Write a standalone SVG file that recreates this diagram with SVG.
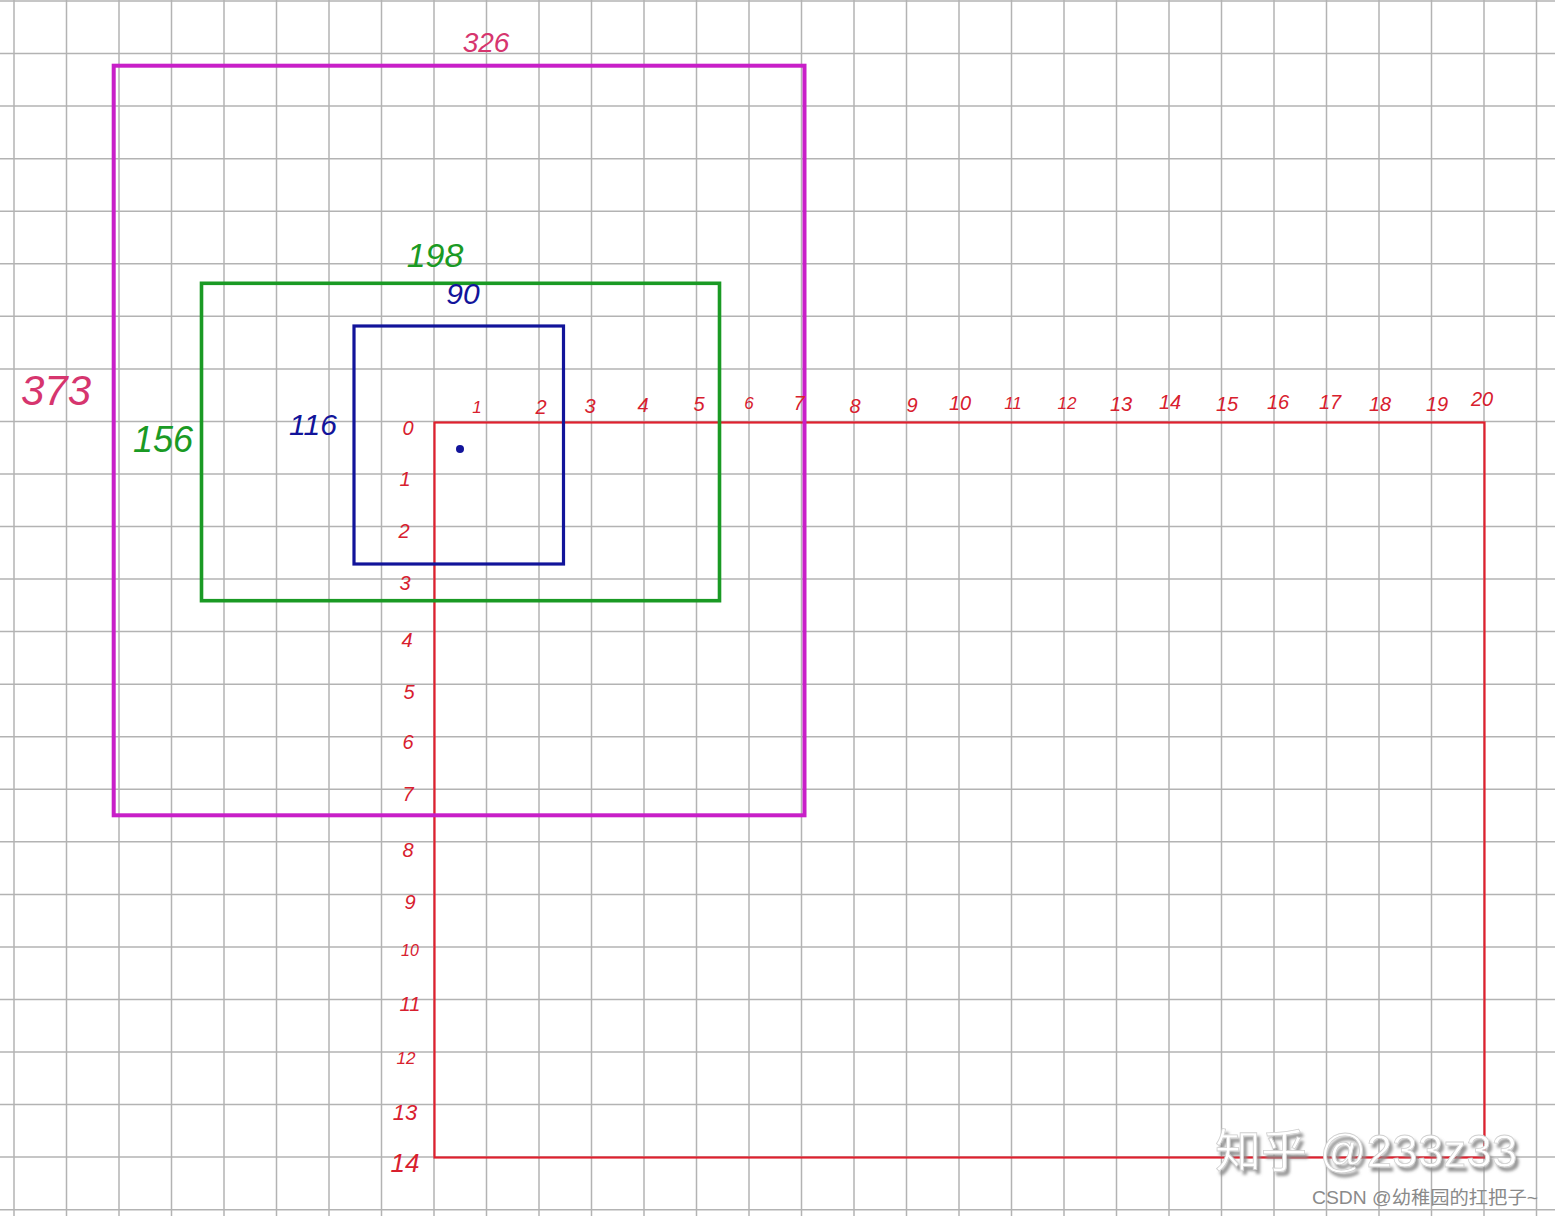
<svg xmlns="http://www.w3.org/2000/svg" width="1555" height="1216" viewBox="0 0 1555 1216">
<style>
.grid line{stroke:#b3b3b3;stroke-width:1.5}
.box{fill:none;stroke-linejoin:miter}
.hw{font-family:"Liberation Sans",sans-serif;font-style:italic;text-anchor:middle}
.ax{fill:#d8202e;font-size:20px}
.wm{font-family:"Liberation Sans","Noto Sans CJK SC",sans-serif}
</style>
<defs>
<filter id="shadow" x="-10%" y="-30%" width="120%" height="160%">
<feDropShadow dx="3" dy="4" stdDeviation="1.5" flood-color="#8a8a8a" flood-opacity="0.9"/>
</filter>
</defs>
<rect x="0" y="0" width="1555" height="1216" fill="#ffffff"/>
<g id="grid" class="grid">
<line x1="14" y1="0" x2="14" y2="1216"/><line x1="66.5" y1="0" x2="66.5" y2="1216"/><line x1="119" y1="0" x2="119" y2="1216"/><line x1="171.5" y1="0" x2="171.5" y2="1216"/><line x1="224" y1="0" x2="224" y2="1216"/><line x1="276.5" y1="0" x2="276.5" y2="1216"/><line x1="329" y1="0" x2="329" y2="1216"/><line x1="381.5" y1="0" x2="381.5" y2="1216"/><line x1="434" y1="0" x2="434" y2="1216"/><line x1="486.5" y1="0" x2="486.5" y2="1216"/><line x1="539" y1="0" x2="539" y2="1216"/><line x1="591.5" y1="0" x2="591.5" y2="1216"/><line x1="644" y1="0" x2="644" y2="1216"/><line x1="696.5" y1="0" x2="696.5" y2="1216"/><line x1="749" y1="0" x2="749" y2="1216"/><line x1="801.5" y1="0" x2="801.5" y2="1216"/><line x1="854" y1="0" x2="854" y2="1216"/><line x1="906.5" y1="0" x2="906.5" y2="1216"/><line x1="959" y1="0" x2="959" y2="1216"/><line x1="1011.5" y1="0" x2="1011.5" y2="1216"/><line x1="1064" y1="0" x2="1064" y2="1216"/><line x1="1116.5" y1="0" x2="1116.5" y2="1216"/><line x1="1169" y1="0" x2="1169" y2="1216"/><line x1="1221.5" y1="0" x2="1221.5" y2="1216"/><line x1="1274" y1="0" x2="1274" y2="1216"/><line x1="1326.5" y1="0" x2="1326.5" y2="1216"/><line x1="1379" y1="0" x2="1379" y2="1216"/><line x1="1431.5" y1="0" x2="1431.5" y2="1216"/><line x1="1484" y1="0" x2="1484" y2="1216"/><line x1="1536.5" y1="0" x2="1536.5" y2="1216"/>
<line x1="0" y1="1" x2="1555" y2="1"/><line x1="0" y1="53.6" x2="1555" y2="53.6"/><line x1="0" y1="106.1" x2="1555" y2="106.1"/><line x1="0" y1="158.7" x2="1555" y2="158.7"/><line x1="0" y1="211.2" x2="1555" y2="211.2"/><line x1="0" y1="263.8" x2="1555" y2="263.8"/><line x1="0" y1="316.3" x2="1555" y2="316.3"/><line x1="0" y1="368.9" x2="1555" y2="368.9"/><line x1="0" y1="421.4" x2="1555" y2="421.4"/><line x1="0" y1="474" x2="1555" y2="474"/><line x1="0" y1="526.5" x2="1555" y2="526.5"/><line x1="0" y1="579.1" x2="1555" y2="579.1"/><line x1="0" y1="631.6" x2="1555" y2="631.6"/><line x1="0" y1="684.2" x2="1555" y2="684.2"/><line x1="0" y1="736.7" x2="1555" y2="736.7"/><line x1="0" y1="789.3" x2="1555" y2="789.3"/><line x1="0" y1="841.8" x2="1555" y2="841.8"/><line x1="0" y1="894.4" x2="1555" y2="894.4"/><line x1="0" y1="946.9" x2="1555" y2="946.9"/><line x1="0" y1="999.5" x2="1555" y2="999.5"/><line x1="0" y1="1052" x2="1555" y2="1052"/><line x1="0" y1="1104.6" x2="1555" y2="1104.6"/><line x1="0" y1="1157.1" x2="1555" y2="1157.1"/><line x1="0" y1="1209.7" x2="1555" y2="1209.7"/>
</g>
<g id="red-rect"><rect class="box" x="434.5" y="422.5" width="1050" height="735" stroke="#e0202e" stroke-width="2.2"/></g>
<g id="magenta-rect"><rect class="box" x="113.7" y="65.7" width="690.8" height="749.6" stroke="#c81fc8" stroke-width="4"/></g>
<g id="green-rect"><rect class="box" x="201.5" y="283.3" width="518" height="317.4" stroke="#1a9a24" stroke-width="3.6"/></g>
<g id="blue-rect"><rect class="box" x="354" y="326" width="209.5" height="238" stroke="#12149a" stroke-width="3.2"/></g>
<g id="dot"><circle cx="460" cy="449" r="4" fill="#12149a"/></g>
<g id="labels" class="hw">
<text x="486" y="52" fill="#d6356e" font-size="28">326</text>
<text x="435" y="267" fill="#1a9a24" font-size="34">198</text>
<text x="463" y="304" fill="#12149a" font-size="30">90</text>
<text x="56" y="405" fill="#d6356e" font-size="42">373</text>
<text x="163" y="452" fill="#1a9a24" font-size="36">156</text>
<text x="313" y="435" fill="#12149a" font-size="30">116</text>
</g>
<g id="axis-y" class="hw ax">
<text x="408" y="435">0</text><text x="405" y="486">1</text><text x="404" y="538">2</text><text x="405" y="590">3</text><text x="407" y="647">4</text><text x="409" y="699">5</text><text x="408" y="749">6</text><text x="408" y="801">7</text><text x="408" y="857">8</text><text x="410" y="909">9</text><text x="410" y="956" font-size="16">10</text><text x="410" y="1011">11</text><text x="406" y="1064" font-size="17">12</text><text x="405" y="1120" font-size="22">13</text><text x="405" y="1172" font-size="26">14</text>
</g>
<g id="axis-x" class="hw ax">
<text x="477" y="413" font-size="17">1</text><text x="541" y="414">2</text><text x="590" y="413">3</text><text x="643" y="412">4</text><text x="699" y="411">5</text><text x="749" y="409" font-size="17">6</text><text x="799" y="410">7</text><text x="855" y="413">8</text><text x="912" y="412">9</text><text x="960" y="410">10</text><text x="1013" y="409" font-size="17">11</text><text x="1067" y="409" font-size="17">12</text><text x="1121" y="411">13</text><text x="1170" y="409">14</text><text x="1227" y="411">15</text><text x="1278" y="409">16</text><text x="1330" y="409">17</text><text x="1380" y="411">18</text><text x="1437" y="411">19</text><text x="1482" y="406">20</text>
</g>
<g id="watermark">
<text class="wm" x="1215" y="1167" font-size="46" fill="#ffffff" stroke="#d0d0d0" stroke-width="0.8" filter="url(#shadow)">知乎 @233z33</text>
<text class="wm" x="1312" y="1204" font-size="18" fill="#8a8a8a" textLength="226" lengthAdjust="spacingAndGlyphs">CSDN @幼稚园的扛把子~</text>
</g>
</svg>
